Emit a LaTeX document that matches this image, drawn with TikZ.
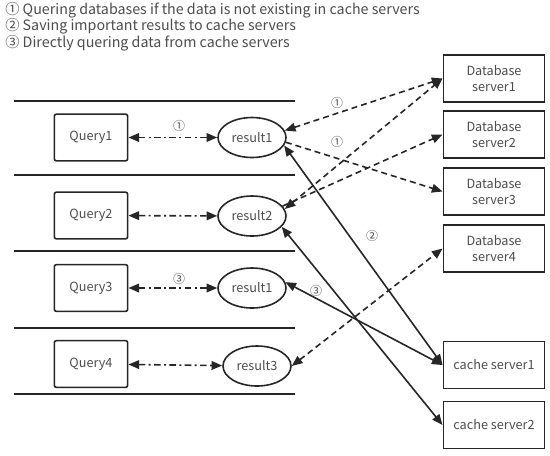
\documentclass[tikz,border=0pt]{standalone}
\usepackage{fontspec}
\setmainfont{Noto Sans CJK SC}
\usetikzlibrary{arrows.meta,shapes}

\begin{document}
\begin{tikzpicture}[x=0.75pt,y=-0.75pt,
  every node/.style={font=\fontsize{9.5}{11.5}\selectfont,text=black!70},
  querybox/.style={draw=black!85,line width=1.2pt,rounded corners=1.5pt,minimum width=55pt,minimum height=35pt,inner sep=0pt},
  resultell/.style={ellipse,draw=black!85,line width=1.2pt,minimum width=51pt,minimum height=30pt,inner sep=0pt},
  serverbox/.style={draw=black!85,line width=1.2pt,minimum width=76pt,minimum height=35pt,inner sep=0pt,align=center},
  legend/.style={anchor=west,font=\fontsize{10.7}{12}\selectfont,inner sep=0pt},
  tag/.style={font=\fontsize{9}{10}\selectfont,inner sep=0pt},
  tip/.style={Triangle[length=8pt,width=6.5pt]},
  dashdot/.style={draw=black!85,line width=1.2pt,dash pattern=on 5pt off 2.5pt on 1.5pt off 2.5pt,{Triangle[length=8pt,width=6.5pt]}-{Triangle[length=8pt,width=6.5pt]}},
  dashlink/.style={draw=black!85,line width=1.2pt,dash pattern=on 4.5pt off 3pt},
  solidlink/.style={draw=black!85,line width=1.2pt}]
\useasboundingbox (0,0) rectangle (550,455);

% legend
\node[legend] (leg1) at (5,10) {① Quering databases if the data is not existing in cache servers};
\node[legend] (leg2) at (5,26) {② Saving important results to cache servers};
\node[legend] (leg3) at (5,43) {③ Directly quering data from cache servers};

% separators
\draw[line width=1.2pt,black!85] (14,101) -- (295,101);
\draw[line width=1.2pt,black!85] (14,175) -- (295,175);
\draw[line width=1.2pt,black!85] (14,251) -- (295,251);
\draw[line width=1.2pt,black!85] (14,328) -- (295,328);
\draw[line width=1.2pt,black!85] (14,394) -- (295,394);

% queries and results
\node[querybox] (q1) at (91,137.5) {Query1};
\node[querybox] (q2) at (91,215.5) {Query2};
\node[querybox] (q3) at (91,288) {Query3};
\node[querybox] (q4) at (91,364) {Query4};
\node[resultell] (r1) at (252,137.5) {result1};
\node[resultell] (r2) at (252,216) {result2};
\node[resultell] (r3) at (252,288) {result1};
\node[resultell] (r4) at (257,366) {result3};

% servers
\node[serverbox] (db1) at (494,78.5) {Database\\server1};
\node[serverbox] (db2) at (494,134.5) {Database\\server2};
\node[serverbox] (db3) at (494,191.5) {Database\\server3};
\node[serverbox] (db4) at (494,248.5) {Database\\server4};
\node[serverbox] (cs1) at (494,365) {cache server1};
\node[serverbox] (cs2) at (494,425) {cache server2};

% query <-> result
\draw[dashdot] (q1) -- (r1);
\draw[dashdot] (q2) -- (r2);
\draw[dashdot] (q3) -- (r3);
\draw[dashdot] (q4) -- (r4);
\node[tag] (t1) at (179,126) {①};
\node[tag] (t3) at (179,279) {③};

% database links
\draw[dashlink,{Triangle[length=8pt,width=6.5pt]}-{Triangle[length=8pt,width=6.5pt]}] (r1.12) -- (db1.west);
\draw[dashlink,-{Triangle[length=8pt,width=6.5pt]}] (r1.-8) -- (db3.west);
\draw[dashlink,{Triangle[length=8pt,width=6.5pt]}-{Triangle[length=8pt,width=6.5pt]}] (r2.12) -- (db1.west);
\draw[dashlink,-{Triangle[length=8pt,width=6.5pt]}] (r2.18) -- (db2.west);
\draw[dashlink,{Triangle[length=8pt,width=6.5pt]}-{Triangle[length=8pt,width=6.5pt]}] (r4.east) -- (db4.west);
\node[tag] (t1a) at (337,103) {①};
\node[tag] (t1b) at (337,142) {①};

% cache links
\draw[solidlink,{Triangle[length=8pt,width=6.5pt]}-{Triangle[length=8pt,width=6.5pt]}] (r1.-14) -- (cs1.west);
\draw[solidlink,{Triangle[length=8pt,width=6.5pt]}-{Triangle[length=8pt,width=6.5pt]}] (r3.10) -- (cs1.west);
\draw[solidlink,{Triangle[length=8pt,width=6.5pt]}-{Triangle[length=8pt,width=6.5pt]}] (r2.-20) -- (cs2.west);
\node[tag] (t2) at (372,236) {②};
\node[tag] (t3b) at (316,291) {③};
\end{tikzpicture}
\end{document}
